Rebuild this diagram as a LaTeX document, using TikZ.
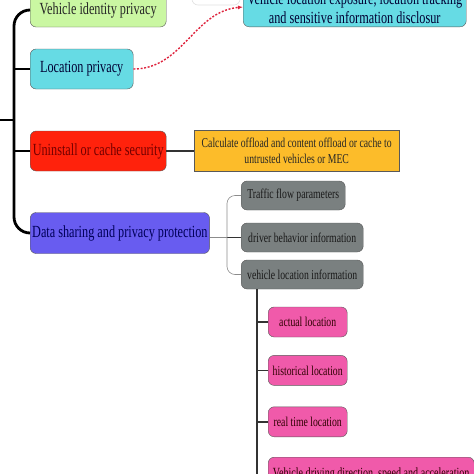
\documentclass[tikz,border=0pt]{standalone}
\usepackage{fontspec}
\setmainfont{Liberation Serif}[FakeStretch=0.72]
\usetikzlibrary{positioning,arrows.meta}
\definecolor{leafgreen}{RGB}{202,247,162}
\definecolor{leafcyan}{RGB}{102,219,228}
\definecolor{leafred}{RGB}{255,34,12}
\definecolor{leaforange}{RGB}{252,188,42}
\definecolor{leafpurple}{RGB}{104,92,240}
\definecolor{leafgray}{RGB}{122,128,128}
\definecolor{leafpink}{RGB}{240,90,170}
\definecolor{linkred}{RGB}{222,34,60}
\tikzset{box/.style={draw=black!65, rounded corners=6pt, anchor=west, align=center,
    inner sep=2pt, minimum height=40pt, font=\fontsize{17}{19}\selectfont},
  subbox/.style={box, fill=leafgray, text=black!90, minimum height=29pt,
    font=\fontsize{13.5}{16}\selectfont},
  pinkbox/.style={subbox, fill=leafpink, text=black!70!red!60!black, minimum width=79pt, minimum height=30pt},
  trunk/.style={line width=2.8pt, black},
  link/.style={line width=1.4pt, black!80},
  thinlink/.style={line width=0.6pt, black!45},
  dashlink/.style={line width=1.4pt, linkred, dash pattern=on 2pt off 1.6pt, -{Latex[length=5pt,width=4pt]}}
}
\begin{document}
\begin{tikzpicture}[x=1pt, y=-1pt]
  \useasboundingbox (0,0) rectangle (474,474);
  \clip (0,0) rectangle (474,474);

  % faint box cut at the top edge
  \draw[black!12, line width=0.6pt, rounded corners=6pt] (192,-30) rectangle (240,5);

  % first level
  \node[box, fill=leafgreen, text=black!85, minimum width=136pt, minimum height=34pt] (vid) at (30,10) {Vehicle identity privacy};
  \node[box, fill=leafcyan, text=blue!20!black, minimum width=103pt] (lp) at (30,69)  {Location privacy};
  \node[box, fill=leafred, text=red!45!black, minimum width=136pt]  (ucs) at (30,151)   {Uninstall or cache security};
  \node[box, fill=leafpurple, text=blue!35!black, minimum width=179pt, minimum height=41pt] (dsp) at (30,233) {Data sharing and privacy protection};

  % second level
  \node[box, fill=leafcyan, text=blue!20!black, minimum width=223pt, minimum height=0pt,
        inner ysep=3pt, anchor=south west] (vle) at (243,27)
        {Vehicle location exposure, location tracking\\and sensitive information disclosur};
  \node[box, fill=leaforange, text=black!85, rounded corners=0pt, minimum width=205pt, minimum height=41pt,
        font=\fontsize{13.5}{16.5}\selectfont] (calc) at (194,151)
        {Calculate offload and content offload or cache to\\untrusted vehicles or MEC};
  \node[subbox, minimum width=104pt] (tfp) at (241,195.5) {Traffic flow parameters};
  \node[subbox, minimum width=122pt] (dbi) at (241,237.5) {driver behavior information};
  \node[subbox, minimum width=122pt] (vli) at (241,274.5) {vehicle location information};

  % third level
  \node[pinkbox] (al) at (268,322) {actual location};
  \node[pinkbox, below=18pt of al.south west, anchor=north west]  (hl)  {historical location};
  \node[pinkbox, below=21pt of hl.south west, anchor=north west]  (rtl) {real time location};
  \node[pinkbox, below=20pt of rtl.south west, anchor=north west, minimum height=34pt, minimum width=206pt,
        font=\fontsize{14}{16}\selectfont] (vdd)
        {Vehicle driving direction, speed and acceleration};

  % trunk
  \coordinate (root) at (0,120);
  \coordinate (spine) at (14,120);
  \draw[trunk] (root) -- (spine);
  \draw[trunk, rounded corners=16pt] (vid.west) -| (spine) |- (dsp.west);
  \foreach \n in {lp,ucs}
    \draw[trunk] (spine |- \n.west) -- (\n.west);

  % links
  \draw[dashlink] (lp.east) to[out=0, in=185] ([yshift=20pt]vle.south west);
  \draw[link] (ucs.east) -- (calc.west);
  \coordinate (fork) at (227,237.5);
  \draw[thinlink] (dsp.east |- fork) -- (fork);
  \draw[link] (fork) -- (dbi.west);
  \draw[thinlink, rounded corners=8pt] (tfp.west) -| (fork) |- (vli.west);

  \coordinate (vbar) at ([xshift=16pt]vli.south west);
  \draw[link] (vbar) -- (vbar |- vdd.south);
  \foreach \n in {al,hl,rtl,vdd}
    \draw[link] (vbar |- \n.west) -- (\n.west);
\end{tikzpicture}
\end{document}
